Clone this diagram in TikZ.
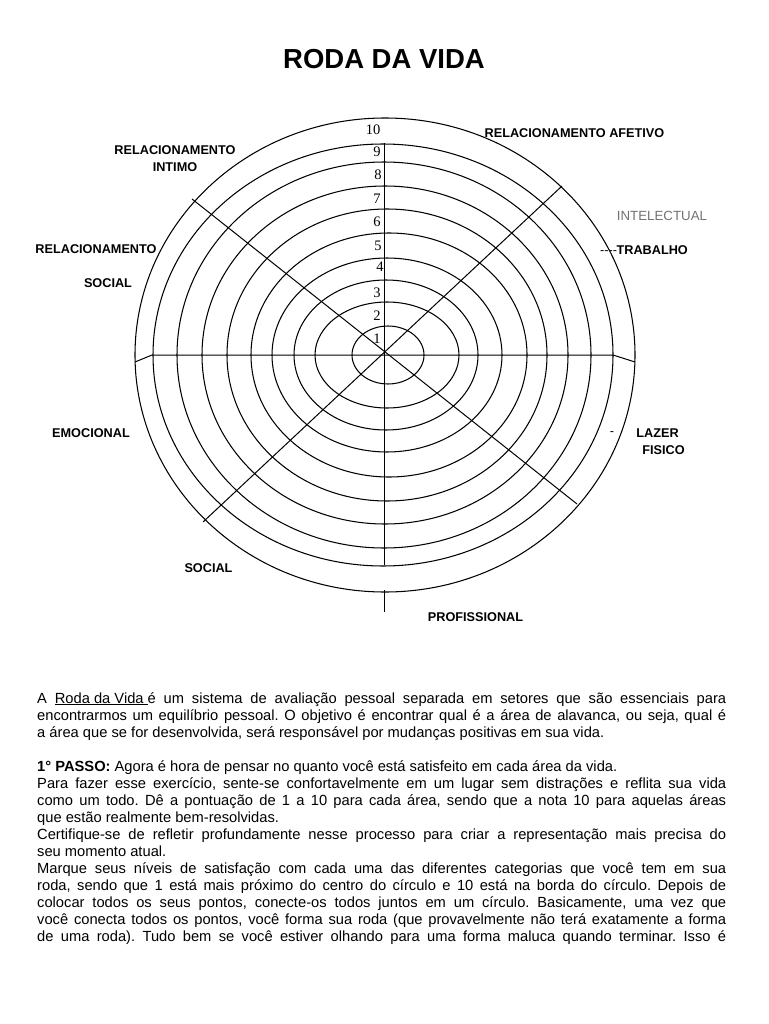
\documentclass[tikz,border=0pt]{standalone}
\usepackage{fontspec}
\setmainfont{Liberation Sans}
\newfontfamily\numfont{Liberation Serif}
\frenchspacing
\begin{document}
\frenchspacing
\begin{tikzpicture}[x=1pt,y=-1pt,
  ring/.style={line width=1.05pt},
  spoke/.style={line width=1pt},
  lab/.style={font=\bfseries\fontsize{12.7}{14}\selectfont, inner sep=0pt},
  num/.style={font=\numfont\fontsize{14.5}{16}\selectfont, inner sep=0pt},
  body/.style={anchor=base west, inner sep=0pt, font=\frenchspacing\fontsize{14.7}{17}\selectfont}]
\useasboundingbox[fill=white] (0,0) rectangle (768,1024);
\node[font=\bfseries\fontsize{27.5}{30}\selectfont, inner sep=0pt] (title) at (384,59) {RODA DA VIDA};
% rings
\foreach \cx/\rx/\ry in {388/36/29, 387/72/53, 386/92/75, 387/115/97, 389/138/122,
  387/160/146, 385/183/169, 384/207/193, 383/230/211, 385/250/237}
  \draw[ring] (\cx,355) ellipse [x radius=\rx, y radius=\ry];
% spokes
\coordinate (ul) at (192,199);
\coordinate (lr) at (577,504);
\coordinate (ur) at (562,186);
\coordinate (ll) at (203,522);
\draw[spoke] (ul) -- (lr);
\draw[spoke] (ur) -- (ll);
\coordinate (hL0) at (135,362);
\coordinate (hL) at (152,355);
\coordinate (hR) at (613,355);
\coordinate (hR0) at (635,362);
\draw[spoke] (hL0) -- (hL) -- (hR) -- (hR0);
\coordinate (vt) at (384,143);
\coordinate (vb) at (384,565);
\coordinate (vt2) at (384,590);
\coordinate (vb2) at (384,612);
\draw[spoke] (vt) -- (vb);
\draw[spoke] (vt2) -- (vb2);
% numbers
\node[num] (n10) at (373,130) {10};
\node[num] (n9) at (377,152) {9};
\node[num] (n8) at (378,175) {8};
\node[num] (n7) at (377,199) {7};
\node[num] (n6) at (377,222) {6};
\node[num] (n5) at (378,246) {5};
\node[num] (n4) at (380,267) {4};
\node[num] (n3) at (377,293) {3};
\node[num] (n2) at (377,316) {2};
\node[num] (n1) at (377,339) {1};
% labels
\node[lab] (ri1) at (175,150) {RELACIONAMENTO};
\node[lab] (ri2) at (175,167) {INTIMO};
\node[lab] (ra) at (574.5,133) {RELACIONAMENTO AFETIVO};
\node[inner sep=0pt, font=\fontsize{13.3}{15}\selectfont, text=black!55] (int) at (662,216) {INTELECTUAL};
\node[lab, anchor=west] (trab) at (600,250) {\mdseries -\kern0pt-\kern0pt-\kern0pt-\kern-0.5pt\bfseries TRABALHO};
\node[lab] (rs1) at (96,249) {RELACIONAMENTO};
\node[lab] (rs2) at (108,283) {SOCIAL};
\node[lab] (emo) at (91,433) {EMOCIONAL};
\node[inner sep=0pt, font=\fontsize{12.7}{14}\selectfont] (dash) at (612,434) {-};
\node[lab] (laz) at (657.5,433) {LAZER};
\node[lab] (fis) at (663.5,450) {FISICO};
\node[lab] (soc) at (208.5,568) {SOCIAL};
\node[lab] (prof) at (475.5,617) {PROFISSIONAL};
% body text
\node[body] (l1) at (37,703) {\makebox[689pt][s]{A \underline{Roda da Vida\ }é um sistema de avaliação pessoal separada em setores que são essenciais para}};
\node[body] (l2) at (37,720) {\makebox[689pt][s]{encontrarmos um equilíbrio pessoal. O objetivo é encontrar qual é a área de alavanca, ou seja, qual é}};
\node[body] (l3) at (37,737) {a área que se for desenvolvida, será responsável por mudanças positivas em sua vida.};
\node[body] (l4) at (37,771) {\textbf{1° PASSO:} Agora é hora de pensar no quanto você está satisfeito em cada área da vida.};
\node[body] (l5) at (37,788) {\makebox[689pt][s]{Para fazer esse exercício, sente-se confortavelmente em um lugar sem distrações e reflita sua vida}};
\node[body] (l6) at (37,805) {\makebox[689pt][s]{como um todo. Dê a pontuação de 1 a 10 para cada área, sendo que a nota 10 para aquelas áreas}};
\node[body] (l7) at (37,822) {que estão realmente bem-resolvidas.};
\node[body] (l8) at (37,839) {\makebox[689pt][s]{Certifique-se de refletir profundamente nesse processo para criar a representação mais precisa do}};
\node[body] (l9) at (37,856) {seu momento atual.};
\node[body] (l10) at (37,873) {\makebox[689pt][s]{Marque seus níveis de satisfação com cada uma das diferentes categorias que você tem em sua}};
\node[body] (l11) at (37,890) {\makebox[689pt][s]{roda, sendo que 1 está mais próximo do centro do círculo e 10 está na borda do círculo. Depois de}};
\node[body] (l12) at (37,907) {\makebox[689pt][s]{colocar todos os seus pontos, conecte-os todos juntos em um círculo. Basicamente, uma vez que}};
\node[body] (l13) at (37,924) {\makebox[689pt][s]{você conecta todos os pontos, você forma sua roda (que provavelmente não terá exatamente a forma}};
\node[body] (l14) at (37,941) {\makebox[689pt][s]{de uma roda). Tudo bem se você estiver olhando para uma forma maluca quando terminar. Isso é}};
\end{tikzpicture}
\end{document}
